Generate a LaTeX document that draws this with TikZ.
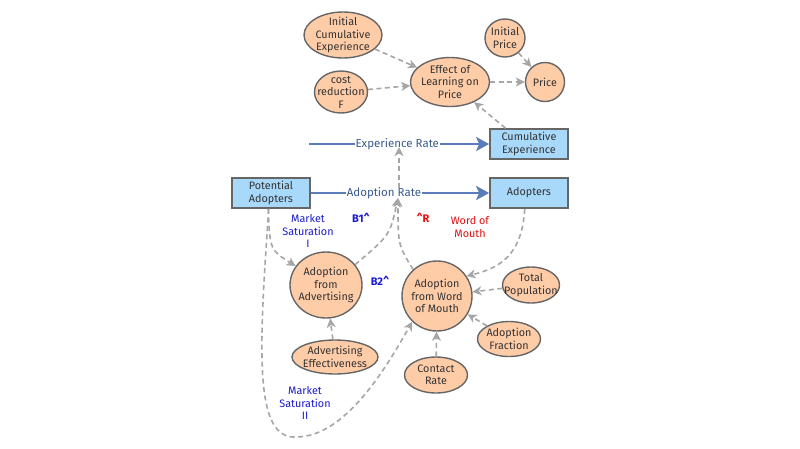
\documentclass[tikz,border=0pt]{standalone}
\usepackage{fontspec}
\setmainfont{Fira Sans}
\usetikzlibrary{shapes.geometric,arrows.meta}

\definecolor{auxfill}{HTML}{FFCCA8}
\definecolor{auxdraw}{HTML}{666666}
\definecolor{stockfill}{HTML}{A8D8FA}
\definecolor{flowblue}{HTML}{5A7DB9}
\definecolor{linkgray}{HTML}{A6A6A6}
\definecolor{labelblue}{HTML}{3A5C8E}
\definecolor{loopblue}{HTML}{1A1AD0}
\definecolor{loopred}{HTML}{E01010}
\definecolor{textdark}{HTML}{333333}

\tikzset{
  aux/.style={ellipse, draw=auxdraw, fill=auxfill, line width=1.4pt, inner sep=0pt},
  auxtext/.style={align=center, text=textdark, inner sep=0pt},
  stock/.style={rectangle, draw=auxdraw, fill=stockfill, line width=1.7pt,
    minimum width=78pt, minimum height=30pt, align=center, text=textdark},
  flow/.style={draw=flowblue, line width=2.8pt, -{Stealth[length=13pt,width=14pt,inset=3pt]}},
  flowlabel/.style={fill=white, text=labelblue, inner sep=1pt, font=\fontsize{11.5}{13}\selectfont},
  link/.style={draw=linkgray, line width=1.6pt, dash pattern=on 5pt off 3.5pt,
    -{Stealth[length=9pt,width=9pt,inset=2.5pt]}},
  looplabel/.style={align=center},
  loopsign/.style={font=\fontsize{11}{13}\selectfont\bfseries},
}

\begin{document}
\begin{tikzpicture}[x=1pt,y=-1pt,font=\fontsize{10.8}{12.5}\selectfont]
  \useasboundingbox (0,0) rectangle (800,448);

  % learning curve part
  \node[aux, minimum width=78pt, minimum height=46pt,
    label={[auxtext]center:Initial\\Cumulative\\Experience}] (ice) at (343,35) {};
  \node[aux, minimum width=53pt, minimum height=42pt,
    label={[auxtext]center:cost\\reduction\\F}] (cost) at (341,92) {};
  \node[aux, minimum width=79pt, minimum height=49pt,
    label={[auxtext]center:Effect of\\Learning on\\Price}] (eff) at (450,82) {};
  \node[aux, minimum width=40pt, minimum height=38pt,
    label={[auxtext]center:Initial\\Price}] (ip) at (505,38) {};
  \node[aux, minimum width=39pt, minimum height=39pt,
    label={[auxtext]center:Price}] (price) at (545,82) {};

  % stocks
  \node[stock] (ce) at (529,144) {Cumulative\\Experience};
  \node[stock] (pa) at (271,193) {Potential\\Adopters};
  \node[stock] (ad) at (529,193) {Adopters};

  % adoption part
  \node[aux, minimum width=72pt, minimum height=66pt,
    label={[auxtext]center:Adoption\\from\\Advertising}] (adv) at (326,285) {};
  \node[aux, minimum width=86pt, minimum height=34pt,
    label={[auxtext]center:Advertising\\Effectiveness}] (adeff) at (335,357) {};
  \node[aux, minimum width=70pt, minimum height=70pt,
    label={[auxtext]center:Adoption\\from Word\\of Mouth}] (wom) at (437,296) {};
  \node[aux, minimum width=57pt, minimum height=36pt,
    label={[auxtext]center:Total\\Population}] (totpop) at (531,285) {};
  \node[aux, minimum width=63pt, minimum height=35pt,
    label={[auxtext]center:Adoption\\Fraction}] (adfrac) at (509,339) {};
  \node[aux, minimum width=63pt, minimum height=36pt,
    label={[auxtext]center:Contact\\Rate}] (contact) at (436,375) {};

  % flows
  \coordinate (xsrc) at (309,144);
  \draw[flow] (xsrc) -- (ce.west) node[flowlabel, pos=0.49] (er) {Experience Rate};
  \draw[flow] (pa.east) -- (ad.west) node[flowlabel, pos=0.41] (ar) {Adoption Rate};

  \coordinate (erv) at (399,147);
  \coordinate (arv) at (399,188);
  \coordinate (arin) at (398,198);

  % loop labels
  \node[looplabel, text=loopblue] (ms1) at (308,231) {Market\\Saturation\\I};
  \node[loopsign, text=loopblue] (b1) at (361,218) {B1\textasciicircum};
  \node[loopsign, text=loopred] (r) at (423,218) {\textasciicircum R};
  \node[looplabel, text=loopred] (wm) at (470,227) {Word of\\Mouth};
  \node[loopsign, text=loopblue] (b2) at (380,281) {B2\textasciicircum};
  \node[looplabel, text=loopblue] (ms2) at (305,403) {Market\\Saturation\\II};

  % links
  \draw[link] (ice) -- (eff);
  \draw[link] (cost) -- (eff);
  \draw[link] (eff) -- (price);
  \draw[link] (ip) -- (price);
  \draw[link] (ce.146) -- (eff);
  \draw[link] (arv) -- (erv);
  \draw[link] (adv.35) .. controls (390,235) .. (arin);
  \draw[link] (wom.132) .. controls (398,245) .. (arin);
  \draw[link] (pa.260) .. controls (270,250) .. (adv.148);
  \draw[link] (pa.262) .. controls (258,360) and (255,440) .. (297,437)
     .. controls (345,436) and (385,370) .. (wom.226);
  \draw[link] (ad.255) .. controls (522,255) and (500,268) .. (wom.34);
  \draw[link] (totpop) -- (wom);
  \draw[link] (adfrac) -- (wom);
  \draw[link] (contact) -- (wom);
  \draw[link] (adeff) -- (adv);
\end{tikzpicture}
\end{document}
